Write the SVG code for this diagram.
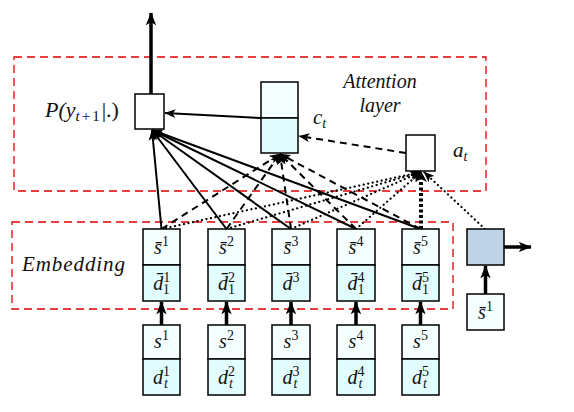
<svg xmlns="http://www.w3.org/2000/svg" width="574" height="412" viewBox="0 0 574 412">
<defs>
<style>
.box{stroke:#000;stroke-width:1.5}
.top{fill:#f5ffff}
.bot{fill:#e2fdfd}
.wht{fill:#fff}
.m{font-family:"Liberation Serif","DejaVu Serif",serif;font-style:italic;font-size:20px;fill:#111}
.n{font-style:normal}
.sup{font-size:14px;font-style:normal}
.sub{font-size:14px}
.region{fill:none;stroke:#e00000;stroke-width:1.3;stroke-dasharray:8 5}
.solid{stroke:#000;stroke-width:2;fill:none;marker-end:url(#ah)}
.dash{stroke:#000;stroke-width:2;fill:none;stroke-dasharray:7 5;marker-end:url(#ah)}
.dot{stroke:#000;stroke-width:2.2;fill:none;stroke-linecap:round;stroke-dasharray:0.1 4.5;marker-end:url(#ah)}
.thick{stroke:#000;stroke-width:3.5;fill:none;marker-end:url(#ahb)}
</style>
<marker id="ah" viewBox="0 0 10 8" refX="9.5" refY="4" markerWidth="11" markerHeight="9" markerUnits="userSpaceOnUse" orient="auto"><path d="M0,0 L10,4 L0,8 L2.5,4z" fill="#000"/></marker>
<marker id="ahb" viewBox="0 0 10 8" refX="9.5" refY="4" markerWidth="13" markerHeight="11" markerUnits="userSpaceOnUse" orient="auto"><path d="M0,0 L10,4 L0,8 L2.5,4z" fill="#000"/></marker>
</defs>
<rect width="574" height="412" fill="#fff"/>

<g id="attention-region">
<rect class="region" x="14" y="57" width="472" height="134"/>
<text class="m" x="380" y="88" text-anchor="middle" style="font-size:20px">Attention</text>
<text class="m" x="380" y="112" text-anchor="middle" style="font-size:20px">layer</text>
</g>
<g id="embedding-region">
<rect class="region" x="12" y="222" width="441" height="87"/>
<text class="m" x="22" y="271" style="font-size:21px" textLength="103" lengthAdjust="spacing">Embedding</text>
</g>

<g id="connectors">
<line class="thick" x1="151" y1="94" x2="151" y2="13"/>
<line class="solid" x1="261" y1="118" x2="165" y2="113"/>
<line class="dash" x1="406" y1="153" x2="299" y2="136"/>
<line class="solid" x1="161.5" y1="229" x2="152" y2="130"/>
<line class="solid" x1="226.5" y1="229" x2="152" y2="130"/>
<line class="solid" x1="291" y1="229" x2="152" y2="130"/>
<line class="solid" x1="356" y1="229" x2="152" y2="130"/>
<line class="solid" x1="420.5" y1="229" x2="152" y2="130"/>
<line class="dash" x1="161.5" y1="229" x2="280" y2="154"/>
<line class="dash" x1="226.5" y1="229" x2="280" y2="154"/>
<line class="dash" x1="291" y1="229" x2="280" y2="154"/>
<line class="dash" x1="356" y1="229" x2="280" y2="154"/>
<line class="dash" x1="420.5" y1="229" x2="280" y2="154"/>
<line class="dot" x1="161.5" y1="229" x2="421" y2="172"/>
<line class="dot" x1="226.5" y1="229" x2="421" y2="172"/>
<line class="dot" x1="291" y1="229" x2="421" y2="172"/>
<line class="dot" x1="356" y1="229" x2="421" y2="172"/>
<line x1="421" y1="229" x2="421" y2="176" stroke="#000" stroke-width="4" stroke-dasharray="3 2.5"/>
<path d="M421,171 L427,182 L421,179 L415,182z" fill="#000"/>
<line class="dot" x1="485" y1="229" x2="424" y2="172"/>
<line class="thick" x1="161.5" y1="325" x2="161.5" y2="302"/>
<line class="thick" x1="226.5" y1="325" x2="226.5" y2="302"/>
<line class="thick" x1="291" y1="325" x2="291" y2="302"/>
<line class="thick" x1="356" y1="325" x2="356" y2="302"/>
<line class="thick" x1="420.5" y1="325" x2="420.5" y2="302"/>
<line class="thick" x1="485.5" y1="294" x2="485.5" y2="266"/>
<line class="thick" x1="504" y1="247" x2="531" y2="247"/>
</g>

<g id="p-node">
<rect class="box wht" x="135" y="94" width="29" height="35"/>
<text class="m" x="45" y="117" style="font-size:22px">P(y<tspan style="font-size:15px" dy="4">t</tspan><tspan style="font-size:15px" class="n" dx="2">+</tspan><tspan style="font-size:15px" class="n" dx="2">1</tspan><tspan dy="-4" dx="2" class="n">|.)</tspan></text>
</g>
<g id="ct-node">
<rect class="box top" x="261" y="82" width="37" height="36"/>
<rect class="box bot" x="261" y="118" width="37" height="35"/>
<text class="m" x="313" y="124" style="font-size:21px">c<tspan style="font-size:14px" dy="4">t</tspan></text>
</g>
<g id="at-node">
<rect class="box wht" x="406" y="135" width="29" height="36"/>
<text class="m" x="453" y="157" style="font-size:21px">a<tspan style="font-size:14px" dy="4">t</tspan></text>
</g>

<g id="emb1">
<rect class="box top" x="143" y="229" width="37" height="36"/>
<rect class="box bot" x="143" y="265" width="37" height="36"/>
<text class="m" x="161.5" y="254" text-anchor="middle">s̄<tspan class="sup" dy="-8">1</tspan></text>
<text class="m" x="161.5" y="290" text-anchor="middle">d̄<tspan class="sup" dy="-8">1</tspan><tspan class="sup" dx="-7" dy="12">1</tspan></text>
</g>
<g id="emb2">
<rect class="box top" x="208" y="229" width="37" height="36"/>
<rect class="box bot" x="208" y="265" width="37" height="36"/>
<text class="m" x="226.5" y="254" text-anchor="middle">s̄<tspan class="sup" dy="-8">2</tspan></text>
<text class="m" x="226.5" y="290" text-anchor="middle">d̄<tspan class="sup" dy="-8">2</tspan><tspan class="sup" dx="-7" dy="12">1</tspan></text>
</g>
<g id="emb3">
<rect class="box top" x="272" y="229" width="38" height="36"/>
<rect class="box bot" x="272" y="265" width="38" height="36"/>
<text class="m" x="291" y="254" text-anchor="middle">s̄<tspan class="sup" dy="-8">3</tspan></text>
<text class="m" x="291" y="290" text-anchor="middle">d̄<tspan class="sup" dy="-8">3</tspan></text>
</g>
<g id="emb4">
<rect class="box top" x="337" y="229" width="38" height="36"/>
<rect class="box bot" x="337" y="265" width="38" height="36"/>
<text class="m" x="356" y="254" text-anchor="middle">s̄<tspan class="sup" dy="-8">4</tspan></text>
<text class="m" x="356" y="290" text-anchor="middle">d̄<tspan class="sup" dy="-8">4</tspan><tspan class="sup" dx="-7" dy="12">1</tspan></text>
</g>
<g id="emb5">
<rect class="box top" x="402" y="229" width="37" height="36"/>
<rect class="box bot" x="402" y="265" width="37" height="36"/>
<text class="m" x="420.5" y="254" text-anchor="middle">s̄<tspan class="sup" dy="-8">5</tspan></text>
<text class="m" x="420.5" y="290" text-anchor="middle">d̄<tspan class="sup" dy="-8">5</tspan><tspan class="sup" dx="-7" dy="12">1</tspan></text>
</g>

<g id="in1">
<rect class="box top" x="143" y="325" width="37" height="34"/>
<rect class="box bot" x="143" y="359" width="37" height="36"/>
<text class="m" x="161.5" y="348" text-anchor="middle">s<tspan class="sup" dy="-8">1</tspan></text>
<text class="m" x="161.5" y="384" text-anchor="middle">d<tspan class="sup" dy="-8">1</tspan><tspan class="sub" dx="-6" dy="12">t</tspan></text>
</g>
<g id="in2">
<rect class="box top" x="208" y="325" width="37" height="34"/>
<rect class="box bot" x="208" y="359" width="37" height="36"/>
<text class="m" x="226.5" y="348" text-anchor="middle">s<tspan class="sup" dy="-8">2</tspan></text>
<text class="m" x="226.5" y="384" text-anchor="middle">d<tspan class="sup" dy="-8">2</tspan><tspan class="sub" dx="-6" dy="12">t</tspan></text>
</g>
<g id="in3">
<rect class="box top" x="272" y="325" width="38" height="34"/>
<rect class="box bot" x="272" y="359" width="38" height="36"/>
<text class="m" x="291" y="348" text-anchor="middle">s<tspan class="sup" dy="-8">3</tspan></text>
<text class="m" x="291" y="384" text-anchor="middle">d<tspan class="sup" dy="-8">3</tspan><tspan class="sub" dx="-6" dy="12">t</tspan></text>
</g>
<g id="in4">
<rect class="box top" x="337" y="325" width="38" height="34"/>
<rect class="box bot" x="337" y="359" width="38" height="36"/>
<text class="m" x="356" y="348" text-anchor="middle">s<tspan class="sup" dy="-8">4</tspan></text>
<text class="m" x="356" y="384" text-anchor="middle">d<tspan class="sup" dy="-8">4</tspan><tspan class="sub" dx="-6" dy="12">t</tspan></text>
</g>
<g id="in5">
<rect class="box top" x="402" y="325" width="37" height="34"/>
<rect class="box bot" x="402" y="359" width="37" height="36"/>
<text class="m" x="420.5" y="348" text-anchor="middle">s<tspan class="sup" dy="-8">5</tspan></text>
<text class="m" x="420.5" y="384" text-anchor="middle">d<tspan class="sup" dy="-8">5</tspan><tspan class="sub" dx="-6" dy="12">t</tspan></text>
</g>

<g id="decoder-node">
<rect class="box" fill="#bfd3e6" x="467" y="229" width="37" height="36"/>
</g>
<g id="sbar-input">
<rect class="box top" x="467" y="294" width="37" height="36"/>
<text class="m" x="485.5" y="319" text-anchor="middle">s̄<tspan class="sup" dy="-8">1</tspan></text>
</g>
</svg>
